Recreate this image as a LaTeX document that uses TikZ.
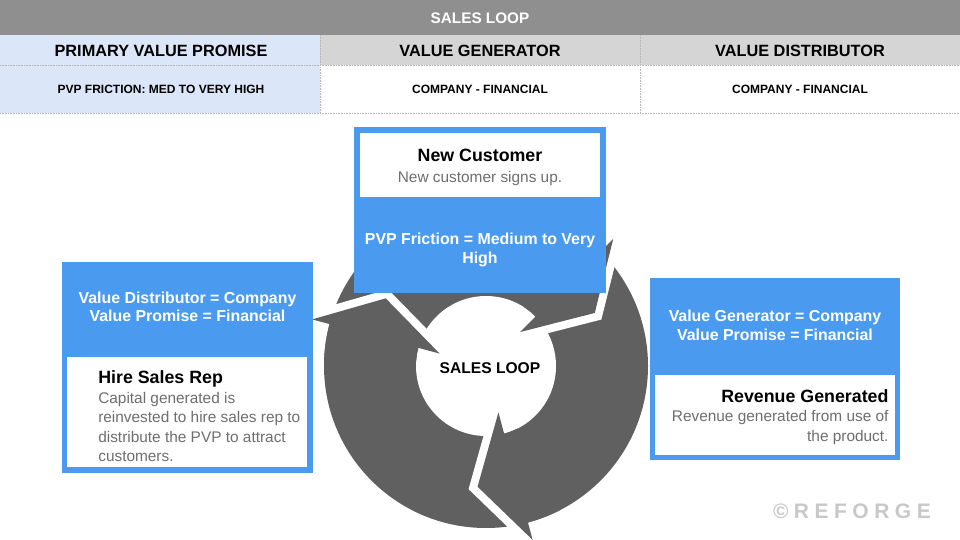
\documentclass[tikz,border=0pt]{standalone}
\usepackage{fontspec}
\setmainfont{Liberation Sans}
\definecolor{hdrgray}{HTML}{8F8F8F}
\definecolor{cellgray}{HTML}{D5D5D5}
\definecolor{cellblue}{HTML}{DBE7F8}
\definecolor{boxblue}{HTML}{4A9BF0}
\definecolor{ringgray}{HTML}{606060}
\definecolor{bodygray}{HTML}{6E6E6E}
\definecolor{linegray}{HTML}{B8B8B8}
\definecolor{markgray}{HTML}{C8C8C8}
\begin{document}
\begin{tikzpicture}[x=1pt,y=-1pt,
  every node/.style={inner sep=0pt, outer sep=0pt},
  tline/.style={linegray, line width=0.6pt, densely dotted},
  hdrtext/.style={white, font=\bfseries\fontsize{15.3}{18}\selectfont},
  coltext/.style={black, font=\bfseries\fontsize{16.3}{19}\selectfont},
  rowtext/.style={black, font=\bfseries\fontsize{12}{14}\selectfont},
  titletext/.style={black, font=\bfseries\fontsize{17.8}{21}\selectfont},
  bodytext/.style={bodygray, font=\fontsize{15.4}{19}\selectfont},
  bluetext/.style={white, font=\bfseries\fontsize{15.9}{19}\selectfont},
  looptext/.style={black, font=\bfseries\fontsize{15.6}{19}\selectfont},
  marktext/.style={markgray, font=\bfseries\fontsize{21}{24}\selectfont}
]
\useasboundingbox (0,0) rectangle (960,540);
\fill[white] (0,0) rectangle (960,540);

% ---------- table ----------
\fill[hdrgray] (0,0) rectangle (960,35);
\fill[cellblue] (0,35) rectangle (320,113);
\fill[cellgray] (320,35) rectangle (960,65);
\draw[tline] (0,65) -- (960,65);
\draw[tline] (0,113.5) -- (960,113.5);
\draw[tline] (320,35) -- (320,113.5);
\draw[tline] (640,35) -- (640,113.5);

\node[hdrtext, anchor=base] (title) at (480,24) {SALES LOOP};
\node[coltext, anchor=base] (colA) at (161,56.7) {PRIMARY VALUE PROMISE};
\node[coltext, anchor=base] (colB) at (480,56.7) {VALUE GENERATOR};
\node[coltext, anchor=base] (colC) at (800,56.7) {VALUE DISTRIBUTOR};
\node[rowtext, anchor=base] (rowA) at (161,94) {PVP FRICTION: MED TO VERY HIGH};
\node[rowtext, anchor=base] (rowB) at (480,94) {COMPANY - FINANCIAL};
\node[rowtext, anchor=base] (rowC) at (800,94) {COMPANY - FINANCIAL};

% ---------- cycle arrows ----------
\begin{scope}[shift={(486,366)}]
  \fill[ringgray] (0,0) circle (162pt);
  \fill[white] (0,0) circle (70pt);
  \foreach \h in {45,-75,165} {
    \draw[white, line width=16pt, line join=miter]
      (\h:48pt) -- (\h-19:121pt) -- (\h:180pt);
    \fill[ringgray] (\h:48pt) -- (\h-19:121pt) -- (\h:180pt) -- (\h:162pt)
      arc[start angle=\h, end angle=\h+12, radius=162pt]
      -- (\h+12:70pt)
      arc[start angle=\h+12, end angle=\h, radius=70pt] -- cycle;
  }
\end{scope}
\node[looptext, anchor=base] (loop) at (490,373.3) {SALES LOOP};

% ---------- top box ----------
\fill[boxblue] (354,127) rectangle (606,293);
\fill[white] (360,133) rectangle (600,197);
\node[titletext, anchor=base] (ncT) at (480,161.7) {New Customer};
\node[bodytext, anchor=base] (ncB) at (480,182.7) {New customer signs up.};
\node[bluetext, anchor=base] (pvp1) at (480,244) {PVP Friction = Medium to Very};
\node[bluetext, anchor=base] (pvp2) at (480,263.3) {High};

% ---------- left box ----------
\fill[boxblue] (62,262) rectangle (313,473);
\fill[white] (67,357) rectangle (307,467);
\node[bluetext, anchor=base] (vd1) at (187.5,303.3) {Value Distributor = Company};
\node[bluetext, anchor=base] (vd2) at (187.5,321.7) {Value Promise = Financial};
\node[titletext, anchor=base west] (hsT) at (98.3,383.3) {Hire Sales Rep};
\node[bodytext, anchor=base west] (hs1) at (98.3,403.3) {Capital generated is};
\node[bodytext, anchor=base west] (hs2) at (98.3,422.8) {reinvested to hire sales rep to};
\node[bodytext, anchor=base west] (hs3) at (98.3,442.3) {distribute the PVP to attract};
\node[bodytext, anchor=base west] (hs4) at (98.3,461.8) {customers.};

% ---------- right box ----------
\fill[boxblue] (650,278) rectangle (900,460);
\fill[white] (655,375) rectangle (895,455);
\node[bluetext, anchor=base] (vg1) at (775,321) {Value Generator = Company};
\node[bluetext, anchor=base] (vg2) at (775,340) {Value Promise = Financial};
\node[titletext, anchor=base east] (rgT) at (888.5,402.3) {Revenue Generated};
\node[bodytext, anchor=base east] (rg1) at (888.5,421.7) {Revenue generated from use of};
\node[bodytext, anchor=base east] (rg2) at (888.5,441.5) {the product.};

% ---------- mark ----------
\node[marktext, anchor=base west] (mark) at (773,518.3)
  {©\hspace{5.5pt}R\hspace{5.5pt}E\hspace{5.5pt}F\hspace{5.5pt}O\hspace{5.5pt}R\hspace{5.5pt}G\hspace{5.5pt}E};
\end{tikzpicture}
\end{document}
